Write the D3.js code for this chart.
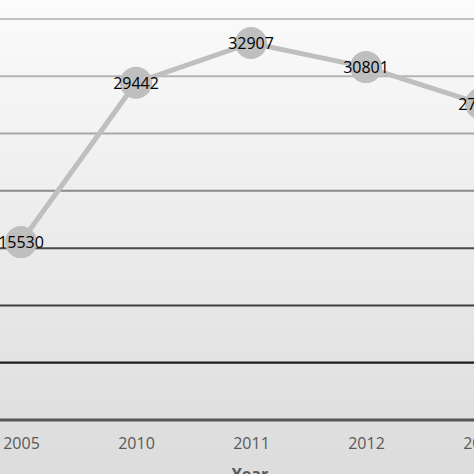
<!DOCTYPE html>
<html>
<head>
<meta charset="utf-8">
<script src="https://cdn.jsdelivr.net/npm/d3@7"></script>
<style>
  html, body { margin: 0; padding: 0; background: #fff; }
  svg { display: block; }
</style>
</head>
<body>
<script>
const years = ["2005", "2010", "2011", "2012", "2013"];
const values = [15530, 29442, 32907, 30801, 27600];
const gridTicks = [0, 5000, 10000, 15000, 20000, 25000, 30000, 35000];
const axisTitle = "Year";

const W = 474, H = 474;
const gridColor = {0: "#555", 5000: "#1e1e1e", 10000: "#3e3e3e", 15000: "#4a4a4a", 20000: "#8a8a8a", 25000: "#a8a8a8", 30000: "#b4b4b4", 35000: "#c2c2c2"};
const gridWidth = {0: 3, 5000: 2.2, 10000: 2, 15000: 2, 20000: 2, 25000: 2, 30000: 2, 35000: 2};

const svg = d3.select("body").append("svg").attr("width", W).attr("height", H);
const defs = svg.append("defs");
const grad = defs.append("linearGradient").attr("id", "bg").attr("x1", 0).attr("y1", 0).attr("x2", 0).attr("y2", 1);
grad.append("stop").attr("offset", "0%").attr("stop-color", "#fbfbfb");
grad.append("stop").attr("offset", "100%").attr("stop-color", "#dcdcdc");
svg.append("rect").attr("width", W).attr("height", H).attr("fill", "url(#bg)");

const x = d3.scalePoint().domain(years).range([21, 481]);
const y = d3.scaleLinear().domain([0, 35000]).range([420, 19]);

// gridlines
const grid = svg.append("g");
grid.selectAll("line").data(gridTicks).join("line")
  .attr("x1", 0).attr("x2", W)
  .attr("y1", d => y(d)).attr("y2", d => y(d))
  .attr("stroke", d => gridColor[d])
  .attr("stroke-width", d => gridWidth[d]);

// x axis labels
const xAxis = d3.axisBottom(x).tickSize(0).tickPadding(0);
const gx = svg.append("g").attr("transform", "translate(0,437)").call(xAxis);
gx.select(".domain").remove();
gx.selectAll("text")
  .attr("fill", "#595959")
  .attr("font-family", "'Open Sans', sans-serif")
  .attr("font-size", 16)
  .attr("dy", "0.75em");

svg.append("text")
  .attr("x", 250).attr("y", 480)
  .attr("text-anchor", "middle")
  .attr("fill", "#595959")
  .attr("font-family", "'Open Sans', sans-serif")
  .attr("font-weight", "bold")
  .attr("font-size", 16)
  .text(axisTitle);

const data = years.map((yr, i) => ({ yr, v: values[i] }));

svg.append("path").datum(data)
  .attr("fill", "none")
  .attr("stroke", "#bfbfbf")
  .attr("stroke-width", 5)
  .attr("d", d3.line().x(d => x(d.yr)).y(d => y(d.v)));

svg.append("g").selectAll("circle").data(data).join("circle")
  .attr("cx", d => x(d.yr)).attr("cy", d => y(d.v))
  .attr("r", 16)
  .attr("fill", "#bfbfbf");

svg.append("g").selectAll("text").data(data).join("text")
  .attr("x", d => x(d.yr)).attr("y", d => y(d.v) + 6)
  .attr("text-anchor", "middle")
  .attr("fill", "#000")
  .attr("font-family", "'Open Sans', sans-serif")
  .attr("font-size", 16)
  .text(d => d.v);
</script>
</body>
</html>
